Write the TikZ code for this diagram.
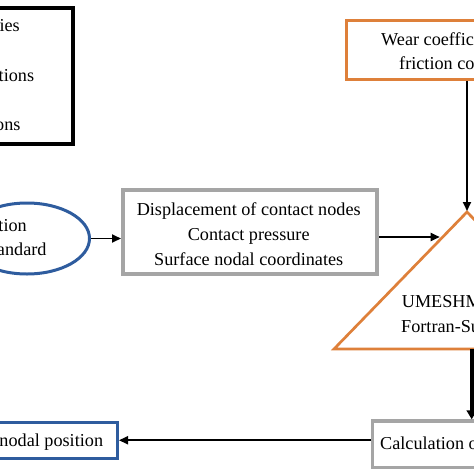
\documentclass[tikz,border=0pt]{standalone}
\usepackage{fontspec}
\setmainfont{Liberation Serif}
\usetikzlibrary{shapes.geometric,arrows.meta,calc}
\definecolor{orng}{RGB}{222,128,58}
\definecolor{blu}{RGB}{46,92,158}
\definecolor{gry}{RGB}{165,165,165}
\begin{document}
\begin{tikzpicture}[x=1pt,y=-1pt,
  txt/.style={font=\fontsize{18.2}{24.7}\selectfont, inner sep=0pt},
  box/.style={draw, rectangle, inner sep=0pt},
  arr/.style={line width=1.8pt, -{Triangle[length=9pt,width=8pt]}},
  thickarr/.style={line width=4pt, -{Triangle[length=9pt,width=10pt]}}]
\useasboundingbox (0,0) rectangle (474,474);
\clip (0,0) rectangle (474,474);
% boxes
\node[box, line width=4.5pt, minimum width=193pt, minimum height=136pt] (props) at (-23.5,76) {};
\node[box, draw=orng, line width=2.7pt, minimum width=253.5pt, minimum height=59pt] (wear) at (473.25,50) {};
\node[box, draw=gry, line width=4pt, minimum width=254pt, minimum height=84pt] (disp) at (250,232) {};
\node[draw=blu, ellipse, line width=3pt, minimum width=125pt, minimum height=71pt, inner sep=0pt] (sim) at (27,238.5) {};
\coordinate (tA) at (467,212);
\coordinate (tL) at (334,349);
\coordinate (tR) at (600,349);
\draw[orng, line width=2.7pt, line join=miter] (tA) -- (tL) -- (tR) -- cycle;
\node[box, draw=gry, line width=3.3pt, minimum width=227.3pt, minimum height=46.6pt] (calc) at (486.35,444.3) {};
\node[box, draw=blu, line width=3pt, minimum width=217.5pt, minimum height=36.5pt] (upd) at (8.75,440.25) {};
% connectors
\coordinate (tin) at ($(tL)!0.8175!(tA)$);
\coordinate (tb) at (471.7,349);
\draw[arr] (sim.east) -- (sim.east -| disp.west);
\draw[arr, shorten >=3pt] (disp.east |- tin) -- (tin);
\draw[arr, shorten >=1pt] (tA |- wear.south) -- (tA);
\draw[thickarr] (tb) -- (tb |- calc.north);
\draw[arr] (calc.west |- upd.east) -- (upd.east);
% texts
\node[txt, anchor=base east] (p1) at (20,31.7) {ies};
\node[txt, anchor=base east] (p2) at (34.3,81.7) {tions};
\node[txt, anchor=base east] (p3) at (20.7,130.7) {ons};
\node[txt, anchor=base west] (w1) at (381,45) {Wear coeffic};
\node[txt, anchor=base west] (w2) at (399,69.3) {friction co};
\node[txt, anchor=base east] (s1) at (27,231.7) {tion};
\node[txt, anchor=base east] (s2) at (46.7,255.7) {andard};
\node[txt, anchor=base] (d1) at (248.7,215.7) {Displacement of contact nodes};
\node[txt, anchor=base] (d2) at (248.7,240.3) {Contact pressure};
\node[txt, anchor=base] (d3) at (248.7,265) {Surface nodal coordinates};
\node[txt, anchor=base west] (u1) at (401.7,307.3) {UMESHM};
\node[txt, anchor=base west] (u2) at (401,332.3) {Fortran-Su};
\node[txt, anchor=base west] (c1) at (380,449) {Calculation o};
\node[txt, anchor=base east] (n1) at (103.3,446) {nodal position};
\end{tikzpicture}
\end{document}
